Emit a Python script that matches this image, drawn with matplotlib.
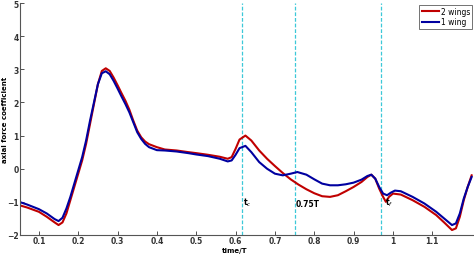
import matplotlib
matplotlib.use("Agg")
import matplotlib.pyplot as plt

# 2 wings
t_red = [0.05, 0.07, 0.10, 0.12, 0.14, 0.15, 0.16, 0.17, 0.18, 0.19, 0.20, 0.21, 0.22,
         0.23, 0.24, 0.25, 0.26, 0.27, 0.28, 0.29, 0.30, 0.31, 0.32, 0.33, 0.34, 0.35,
         0.36, 0.37, 0.38, 0.40, 0.42, 0.45, 0.48, 0.50, 0.53, 0.56, 0.58, 0.59, 0.60,
         0.61, 0.625, 0.64, 0.66, 0.68, 0.70, 0.72, 0.74, 0.76, 0.78, 0.80, 0.82, 0.84,
         0.86, 0.88, 0.90, 0.92, 0.935, 0.945, 0.955, 0.965, 0.975, 0.982, 0.99, 1.00,
         1.02, 1.05, 1.08, 1.11, 1.13, 1.15, 1.16, 1.17, 1.18, 1.19, 1.20]
cf_red = [-1.10, -1.17, -1.30, -1.45, -1.62, -1.70, -1.62, -1.35, -0.95, -0.55, -0.15, 0.25, 0.75,
          1.35, 1.95, 2.55, 2.95, 3.03, 2.95, 2.75, 2.52, 2.28, 2.05, 1.78, 1.45, 1.15,
          0.95, 0.82, 0.74, 0.65, 0.58, 0.55, 0.50, 0.47, 0.42, 0.36, 0.30, 0.35, 0.60,
          0.88, 1.00, 0.85, 0.55, 0.30, 0.08, -0.13, -0.32, -0.48, -0.62, -0.74, -0.83, -0.85,
          -0.80, -0.68, -0.55, -0.40, -0.25, -0.18, -0.30, -0.60, -0.85, -1.00, -0.85, -0.75,
          -0.78, -0.95, -1.15, -1.40, -1.62, -1.85, -1.80, -1.45, -0.95, -0.55, -0.20]

# 1 wing
t_blue = [0.05, 0.07, 0.10, 0.12, 0.14, 0.15, 0.16, 0.17, 0.18, 0.19, 0.20, 0.21, 0.22,
          0.23, 0.24, 0.25, 0.26, 0.27, 0.28, 0.29, 0.30, 0.31, 0.32, 0.33, 0.34, 0.35,
          0.36, 0.37, 0.38, 0.40, 0.42, 0.45, 0.48, 0.50, 0.53, 0.56, 0.58, 0.59, 0.60,
          0.61, 0.625, 0.64, 0.66, 0.68, 0.70, 0.72, 0.74, 0.757, 0.78, 0.80, 0.82, 0.84,
          0.86, 0.88, 0.90, 0.92, 0.935, 0.945, 0.955, 0.965, 0.975, 0.985, 0.995, 1.005,
          1.02, 1.05, 1.08, 1.11, 1.13, 1.15, 1.16, 1.17, 1.18, 1.19, 1.20]
cf_blue = [-1.00, -1.08, -1.22, -1.35, -1.52, -1.58, -1.48, -1.20, -0.85, -0.45, -0.05, 0.35, 0.85,
           1.45, 2.00, 2.55, 2.88, 2.94, 2.85, 2.65, 2.42, 2.18, 1.95, 1.70, 1.40, 1.10,
           0.90, 0.75, 0.65, 0.56, 0.55, 0.52, 0.47, 0.43, 0.38, 0.30, 0.22, 0.25, 0.42,
           0.62, 0.69, 0.50, 0.20, 0.00, -0.15, -0.20, -0.15, -0.10, -0.18, -0.32, -0.45, -0.50,
           -0.50, -0.47, -0.42, -0.33, -0.22, -0.18, -0.30, -0.55, -0.75, -0.80, -0.72, -0.66,
           -0.68, -0.85, -1.05, -1.30, -1.50, -1.70, -1.65, -1.35, -0.90, -0.55, -0.25]

events = [0.617, 0.75, 0.97]
event_labels = ["t$_c$", "0.75T", "t$_f$"]

fig = plt.figure(figsize=(4.74, 2.55), dpi=100)
ax = fig.add_axes([20 / 474, 19 / 255, 454 / 474, 232 / 255])

for x in events:
    ax.axvline(x, color="#3cc8d8", linestyle="--", linewidth=0.9, dashes=(3, 1.5))

ax.plot(t_red, cf_red, color="#c00000", linewidth=1.5, label="2 wings")
ax.plot(t_blue, cf_blue, color="#0000a0", linewidth=1.5, label="1 wing")

ax.text(events[0] + 0.003, -1.0, event_labels[0], fontsize=5.5, fontweight="bold", va="center")
ax.text(events[1] + 0.003, -1.05, event_labels[1], fontsize=5.5, fontweight="bold", va="center")
ax.text(events[2] + 0.01, -1.0, event_labels[2], fontsize=5.5, fontweight="bold", va="center")

ax.set_xlim(0.052, 1.206)
ax.set_ylim(-2, 5)
ax.set_xticks([0.1, 0.2, 0.3, 0.4, 0.5, 0.6, 0.7, 0.8, 0.9, 1.0, 1.1])
ax.set_xticklabels(["0.1", "0.2", "0.3", "0.4", "0.5", "0.6", "0.7", "0.8", "0.9", "1", "1.1"])
ax.set_yticks(range(-2, 6))
ax.tick_params(direction="in", length=3, width=0.6, labelsize=5.5, pad=1, colors="#333333")
for lbl in ax.get_xticklabels() + ax.get_yticklabels():
    lbl.set_fontweight("bold")
ax.spines["top"].set_visible(False)
ax.spines["right"].set_visible(False)
ax.spines["left"].set_color("#555555")
ax.spines["bottom"].set_color("#555555")

fig.text(235 / 474, 1 - 251.5 / 255, "time/T", fontsize=5, fontweight="bold",
         ha="center", va="center")
fig.text(5 / 474, 1 - 120 / 255, "axial force coefficient", fontsize=5, fontweight="bold",
         ha="center", va="center", rotation=90)

leg = ax.legend(loc="upper right", fontsize=5.5, frameon=True, fancybox=False,
                handlelength=2.2, borderpad=0.3, labelspacing=0.2, handletextpad=0.3,
                borderaxespad=0.2)
leg.get_frame().set_edgecolor("#333333")
leg.get_frame().set_linewidth(0.6)

fig.savefig("out.png", dpi=100)
